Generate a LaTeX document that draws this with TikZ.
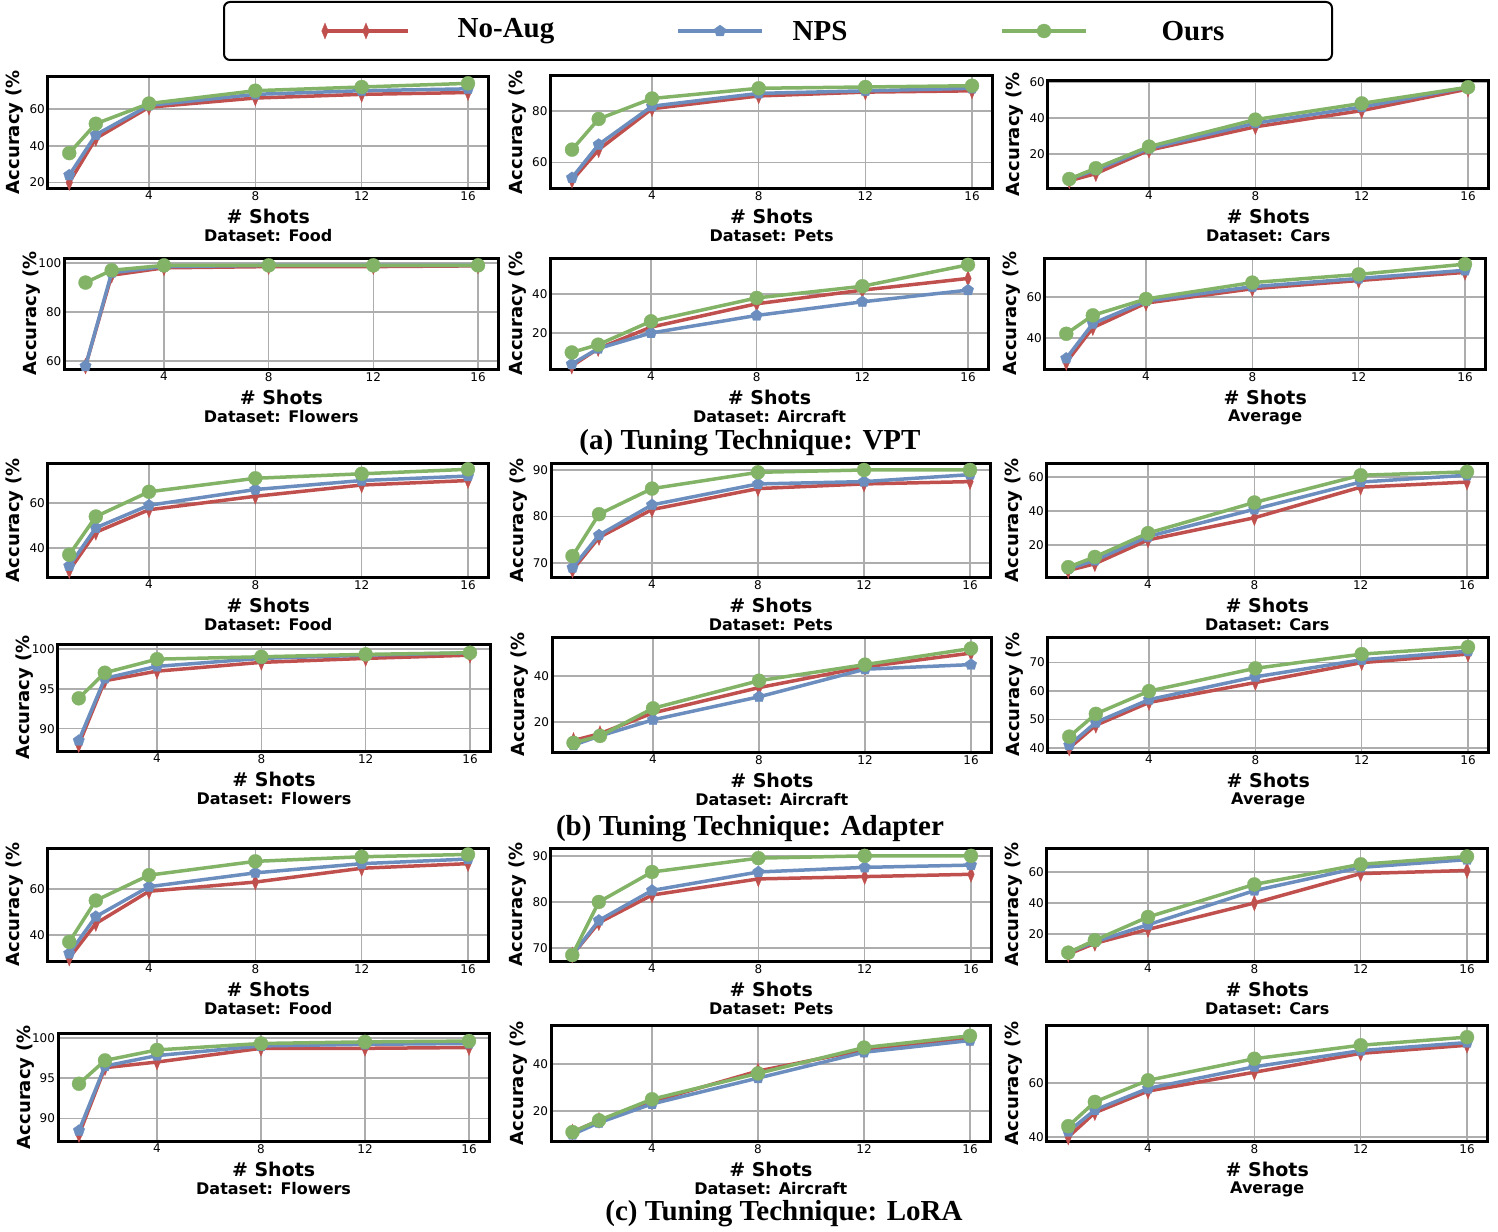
\documentclass[tikz,border=0pt]{standalone}
\usepackage{fontspec}
\setmainfont{Liberation Serif}
\newfontfamily\djs{DejaVu Sans}
\usetikzlibrary{plotmarks}
\definecolor{cna}{RGB}{192,80,77}
\definecolor{cnps}{RGB}{108,142,191}
\definecolor{cours}{RGB}{130,179,102}
\tikzset{
 gridl/.style={draw=black!32,line width=1.6pt},
 frame/.style={draw=black,line width=3pt},
 tick/.style={font=\djs\fontsize{12}{14}\selectfont,inner sep=3pt},
 shots/.style={font=\djs\bfseries\fontsize{19}{22}\selectfont},
 dset/.style={font=\djs\bfseries\fontsize{16}{19}\selectfont},
 ylab/.style={font=\djs\bfseries\fontsize{18}{21}\selectfont,rotate=90},
 ttl/.style={font=\bfseries\fontsize{29}{33}\selectfont},
 na/.style={cna,line width=3.5pt,mark=diamond*,mark size=8pt,mark options={solid,xscale=0.55,line width=0.3pt,fill=cna}},
 nps/.style={cnps,line width=3.5pt,mark=pentagon*,mark size=6pt,mark options={solid,line width=0.3pt,fill=cnps}},
 ours/.style={cours,line width=3.5pt,mark=*,mark size=7pt,mark options={solid,line width=0.3pt,fill=cours}},
}
\newcommand\PB[6]{\def\Pf{#1}\def\Ps{#2}\def\Yt{#3}\def\Yb{#4}\def\Ymin{#5}\def\Ymax{#6}}
\newcommand\PD[5]{%
 \pgfmathsetmacro\sx{(\Ps-\Pf)/12}%
 \pgfmathsetmacro\sy{(\Yb-\Yt)/(\Ymax-\Ymin)}%
 \pgfmathsetmacro\Xa{\Pf-3.8*\sx}%
 \pgfmathsetmacro\Xb{\Ps+0.77*\sx}%
 \begin{scope}[shift={(\Pf,\Yb)},x={(\sx pt,0pt)},y={(0pt,\sy pt)},shift={(-4,-\Ymin)}]
  \foreach \t in {#1} {\draw[gridl] (0.2,\t) -- (16.77,\t); \node[tick,left] at (0.2,\t) {\t};}
  \foreach \t in {4,8,12,16} {\draw[gridl] (\t,\Ymin) -- (\t,\Ymax); \node[tick,below] at (\t,\Ymin) {\t};}
  \draw[frame] (0.2,\Ymin) rectangle (16.77,\Ymax);
  \draw[na] plot coordinates {#2};
  \draw[nps] plot coordinates {#3};
  \draw[ours] plot coordinates {#4};
 \end{scope}
 \node[shots] at ({(\Xa+\Xb)/2},\Yb+28) {\# Shots};
 \node[dset] at ({(\Xa+\Xb)/2},\Yb+48) {#5};
 \node[ylab] at (\Xa-33,{(\Yt+\Yb)/2}) {Accuracy (\%};
}
\begin{document}
\begin{tikzpicture}[x=1pt,y=-1pt]
\useasboundingbox (0,0) rectangle (1498,1231);
% legend
\draw[line width=2pt,rounded corners=6pt] (224,2) rectangle (1332,60);
\coordinate (l1a) at (325,31); \coordinate (l1b) at (408,31);
\coordinate (l2a) at (678,31); \coordinate (l2b) at (762,31);
\coordinate (l3a) at (1002,31); \coordinate (l3b) at (1086,31);
\draw[na] plot coordinates {(325,31)}; \draw[cna,line width=3.5pt] (l1a) -- (l1b);
\draw[cnps,line width=3.5pt] (l2a) -- (l2b);
\draw[cours,line width=3.5pt] (l3a) -- (l3b);
\draw[na,draw=none] plot coordinates {(366,31)};
\draw[nps,draw=none] plot coordinates {(720,31)};
\draw[ours,draw=none] plot coordinates {(1044,31)};
\node[ttl] (lg1) at (506,31) {No-Aug};
\node[ttl] (lg2) at (820,31) {NPS};
\node[ttl] (lg3) at (1193,31) {Ours};
% ---- VPT
\PB{149}{468}{76}{188}{17}{78}
\PD{20,40,60}{(1,20)(2,44)(4,61)(8,66)(12,68)(16,69)}{(1,24)(2,46)(4,62)(8,68)(12,70)(16,71)}{(1,36)(2,52)(4,63)(8,70)(12,72)(16,74)}{Dataset: Food}
\PB{652}{972}{76}{188}{50}{93.8}
\PD{60,80}{(1,53)(2,65)(4,81)(8,86)(12,87.5)(16,88)}{(1,54)(2,67)(4,82)(8,87)(12,88)(16,89)}{(1,65)(2,77)(4,85)(8,89)(12,89.5)(16,90)}{Dataset: Pets}
\PB{1149}{1468}{80}{188}{1}{61}
\PD{20,40,60}{(1,5)(2,9)(4,22)(8,35)(12,44)(16,56)}{(1,6)(2,11)(4,23)(8,37)(12,46)(16,57)}{(1,6)(2,12)(4,24)(8,39)(12,48)(16,57)}{Dataset: Cars}
\PB{164}{478}{258}{369}{56.8}{102}
\PD{60,80,100}{(1,58)(2,95)(4,98)(8,98.5)(12,98.5)(16,98.8)}{(1,58)(2,96)(4,98.5)(8,99)(12,99)(16,99)}{(1,92)(2,97)(4,99)(8,99)(12,99)(16,99)}{Dataset: Flowers}
\PB{651}{968}{258}{369}{1.5}{58.5}
\PD{20,40}{(1,3)(2,12)(4,23)(8,35)(12,42)(16,48)}{(1,4)(2,12)(4,20)(8,29)(12,36)(16,42)}{(1,10)(2,14)(4,26)(8,38)(12,44)(16,55)}{Dataset: Aircraft}
\PB{1146}{1465}{258}{369}{24.8}{79}
\PD{40,60}{(1,28)(2,45)(4,57)(8,64)(12,68)(16,72)}{(1,30)(2,47)(4,58)(8,65)(12,69)(16,73)}{(1,42)(2,51)(4,59)(8,67)(12,71)(16,76)}{Average}
\node[ttl] (ta) at (750,443) {(a) Tuning Technique: VPT};
% ---- Adapter
\PB{149}{468}{463}{577}{27.1}{77.8}
\PD{40,60}{(1,30)(2,47)(4,57)(8,63)(12,68)(16,70)}{(1,32)(2,49)(4,59)(8,66)(12,70)(16,72)}{(1,37)(2,54)(4,65)(8,71)(12,73)(16,75)}{Dataset: Food}
\PB{652}{970}{463}{577}{67}{91.5}
\PD{70,80,90}{(1,68.5)(2,75.5)(4,81.5)(8,86)(12,87)(16,87.5)}{(1,69)(2,76)(4,82.5)(8,87)(12,87.5)(16,89)}{(1,71.5)(2,80.5)(4,86)(8,89.5)(12,90)(16,90)}{Dataset: Pets}
\PB{1148}{1467}{463}{577}{1.2}{68.2}
\PD{20,40,60}{(1,5)(2,9)(4,23)(8,36)(12,54)(16,57)}{(1,6)(2,11)(4,25)(8,41)(12,57)(16,61)}{(1,7)(2,13)(4,27)(8,45)(12,61)(16,63)}{Dataset: Cars}
\PB{157}{470}{644}{751}{87.2}{100.6}
\PD{90,95,100}{(1,88)(2,96)(4,97.2)(8,98.3)(12,98.8)(16,99.2)}{(1,88.5)(2,96.3)(4,97.8)(8,98.8)(12,99.2)(16,99.5)}{(1,93.8)(2,97)(4,98.7)(8,99)(12,99.3)(16,99.5)}{Dataset: Flowers}
\PB{653}{971}{637}{752}{7}{57}
\PD{20,40}{(1,12)(2,15)(4,24)(8,35)(12,44)(16,50)}{(1,10)(2,14)(4,21)(8,31)(12,43)(16,45)}{(1,11)(2,14)(4,26)(8,38)(12,45)(16,52)}{Dataset: Aircraft}
\PB{1149}{1468}{637}{752}{38.6}{79}
\PD{40,50,60,70}{(1,40)(2,48)(4,56)(8,63)(12,70)(16,73)}{(1,41)(2,49)(4,57)(8,65)(12,71)(16,74)}{(1,44)(2,52)(4,60)(8,68)(12,73)(16,75.5)}{Average}
\node[ttl] (tb) at (750,829) {(b) Tuning Technique: Adapter};
% ---- LoRA
\PB{149}{468}{848}{961}{28.7}{77.8}
\PD{40,60}{(1,30)(2,45)(4,59)(8,63)(12,69)(16,71)}{(1,32)(2,48)(4,61)(8,67)(12,71)(16,73)}{(1,37)(2,55)(4,66)(8,72)(12,74)(16,75)}{Dataset: Food}
\PB{652}{971}{848}{961}{67.2}{91.7}
\PD{70,80,90}{(1,68.5)(2,75.5)(4,81.5)(8,85)(12,85.5)(16,86)}{(1,68.5)(2,76)(4,82.5)(8,86.5)(12,87.5)(16,88)}{(1,68.5)(2,80)(4,86.5)(8,89.5)(12,90)(16,90)}{Dataset: Pets}
\PB{1148}{1467}{848}{961}{2.6}{75.5}
\PD{20,40,60}{(1,7)(2,14)(4,23)(8,40)(12,59)(16,61)}{(1,8)(2,15)(4,26)(8,48)(12,63)(16,68)}{(1,8)(2,16)(4,31)(8,52)(12,65)(16,70)}{Dataset: Cars}
\PB{157}{469}{1033}{1141}{87.2}{100.6}
\PD{90,95,100}{(1,88)(2,96.3)(4,97)(8,98.7)(12,98.7)(16,98.8)}{(1,88.5)(2,96.5)(4,97.8)(8,99)(12,99.2)(16,99.3)}{(1,94.3)(2,97.2)(4,98.5)(8,99.3)(12,99.5)(16,99.6)}{Dataset: Flowers}
\PB{652}{970}{1025}{1141}{7.2}{56.6}
\PD{20,40}{(1,11)(2,16)(4,24)(8,37)(12,46)(16,51)}{(1,10)(2,15)(4,23)(8,34)(12,45)(16,50)}{(1,11)(2,16)(4,25)(8,36)(12,47)(16,52)}{Dataset: Aircraft}
\PB{1148}{1467}{1025}{1141}{38.5}{81.5}
\PD{40,60}{(1,40)(2,49)(4,57)(8,64)(12,71)(16,74)}{(1,42)(2,50)(4,58)(8,66)(12,72)(16,75)}{(1,44)(2,53)(4,61)(8,69)(12,74)(16,77)}{Average}
\node[ttl] (tc) at (784,1214) {(c) Tuning Technique: LoRA};
\end{tikzpicture}
\end{document}
